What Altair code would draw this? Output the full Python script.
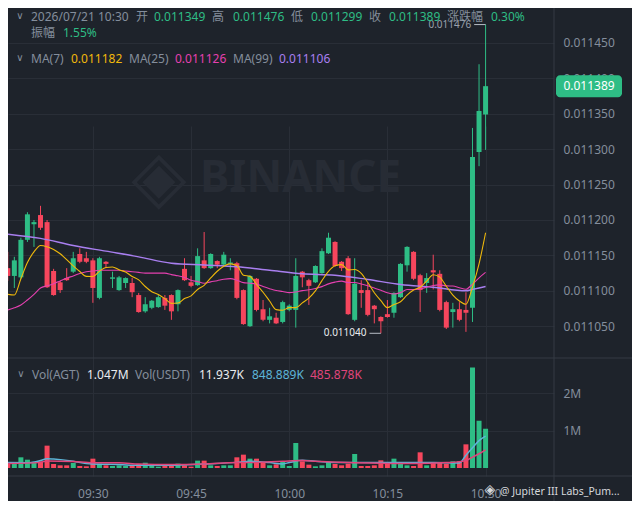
import altair as alt
import pandas as pd

# ---------------- values ----------------
first_minute = 17  # first candle 09:17, 1-minute candles up to 10:30
opens = [0.011132, 0.011121, 0.011119, 0.011172, 0.011194, 0.011207, 0.011197, 0.011128, 0.011112, 0.011118,
         0.011127, 0.011152, 0.011146, 0.011143, 0.011090, 0.011141, 0.011117, 0.011101, 0.011111, 0.011111,
         0.011094, 0.011071, 0.011076, 0.011077, 0.011090, 0.011094, 0.011081, 0.011131, 0.011112, 0.011108,
         0.011143, 0.011132, 0.011142, 0.011137, 0.011138, 0.011139, 0.011101, 0.011050, 0.011117, 0.011074,
         0.011059, 0.011062, 0.011056, 0.011073, 0.011073, 0.011127, 0.011115, 0.011112, 0.011125, 0.011153,
         0.011169, 0.011141, 0.011146, 0.011059, 0.011101, 0.011101, 0.011079, 0.011063, 0.011067, 0.011069,
         0.011091, 0.011136, 0.011155, 0.011122, 0.011111, 0.011129, 0.011124, 0.011084, 0.011070, 0.011074,
         0.011073, 0.011076, 0.011296, 0.011349]
highs = [0.011155, 0.011148, 0.011175, 0.011211, 0.011200, 0.011220, 0.011200, 0.011131, 0.011114, 0.011132,
         0.011155, 0.011160, 0.011155, 0.011146, 0.011148, 0.011142, 0.011127, 0.011121, 0.011119, 0.011118,
         0.011097, 0.011091, 0.011087, 0.011094, 0.011094, 0.011095, 0.011102, 0.011146, 0.011121, 0.011160,
         0.011183, 0.011153, 0.011143, 0.011155, 0.011146, 0.011141, 0.011102, 0.011122, 0.011118, 0.011087,
         0.011076, 0.011069, 0.011086, 0.011081, 0.011146, 0.011128, 0.011117, 0.011136, 0.011160, 0.011182,
         0.011170, 0.011142, 0.011149, 0.011146, 0.011115, 0.011112, 0.011080, 0.011064, 0.011087, 0.011098,
         0.011139, 0.011163, 0.011156, 0.011124, 0.011125, 0.011151, 0.011129, 0.011086, 0.011083, 0.011084,
         0.011098, 0.011330, 0.011420, 0.011476]
lows = [0.011114, 0.011104, 0.011117, 0.011169, 0.011162, 0.011186, 0.011104, 0.011093, 0.011097, 0.011114,
        0.011125, 0.011139, 0.011139, 0.011083, 0.011088, 0.011132, 0.011104, 0.011100, 0.011104, 0.011091,
        0.011069, 0.011069, 0.011074, 0.011076, 0.011073, 0.011059, 0.011071, 0.011114, 0.011105, 0.011107,
        0.011131, 0.011131, 0.011132, 0.011135, 0.011129, 0.011088, 0.011052, 0.011049, 0.011071, 0.011057,
        0.011054, 0.011053, 0.011054, 0.011071, 0.011048, 0.011105, 0.011080, 0.011111, 0.011124, 0.011152,
        0.011134, 0.011128, 0.011066, 0.011057, 0.011076, 0.011064, 0.011054, 0.011040, 0.011062, 0.011062,
        0.011090, 0.011127, 0.011115, 0.011070, 0.011097, 0.011102, 0.011071, 0.011046, 0.011048, 0.011057,
        0.011042, 0.011056, 0.011276, 0.011299]
closes = [0.011121, 0.011143, 0.011172, 0.011208, 0.011197, 0.011189, 0.011105, 0.011094, 0.011101, 0.011115,
          0.011146, 0.011141, 0.011141, 0.011104, 0.011146, 0.011138, 0.011119, 0.011119, 0.011118, 0.011098,
          0.011070, 0.011081, 0.011086, 0.011091, 0.011079, 0.011071, 0.011101, 0.011115, 0.011107, 0.011149,
          0.011132, 0.011152, 0.011137, 0.011151, 0.011140, 0.011090, 0.011053, 0.011121, 0.011073, 0.011059,
          0.011064, 0.011054, 0.011084, 0.011079, 0.011121, 0.011119, 0.011107, 0.011135, 0.011156, 0.011175,
          0.011135, 0.011132, 0.011067, 0.011110, 0.011097, 0.011066, 0.011074, 0.011057, 0.011063, 0.011097,
          0.011138, 0.011162, 0.011117, 0.011101, 0.011118, 0.011126, 0.011073, 0.011048, 0.011074, 0.011059,
          0.011069, 0.011289, 0.011354, 0.011389]
volumes = [160000, 142000, 285000, 222000, 160000, 178000, 596000, 107000, 71000, 71000,
           133000, 53000, 45000, 249000, 116000, 71000, 53000, 71000, 53000, 71000,
           107000, 142000, 71000, 36000, 71000, 71000, 116000, 71000, 36000, 196000,
           196000, 71000, 53000, 71000, 71000, 285000, 356000, 249000, 249000, 142000,
           71000, 98000, 178000, 53000, 667000, 178000, 89000, 45000, 71000, 160000,
           107000, 71000, 116000, 374000, 53000, 53000, 71000, 205000, 142000, 249000,
           116000, 71000, 53000, 418000, 71000, 142000, 160000, 116000, 178000, 178000,
           631000, 2680000, 1260000, 1047000]
ma7 = [0.011095, 0.011094, 0.011117, 0.011140, 0.011155, 0.011164, 0.0111621, 0.0111583, 0.0111523, 0.0111441,
       0.0111353, 0.0111273, 0.0111204, 0.0111203, 0.0111277, 0.0111330, 0.0111336, 0.0111297, 0.0111264, 0.0111203,
       0.0111154, 0.0111061, 0.0110987, 0.0110947, 0.0110890, 0.0110823, 0.0110827, 0.0110891, 0.0110929, 0.0111019,
       0.0111077, 0.0111181, 0.0111276, 0.0111347, 0.0111381, 0.0111357, 0.0111220, 0.0111204, 0.0111091, 0.0110980,
       0.0110856, 0.0110734, 0.0110726, 0.0110763, 0.0110763, 0.0110829, 0.0110897, 0.0110999, 0.0111144, 0.0111274,
       0.0111354, 0.0111370, 0.0111296, 0.0111300, 0.0111246, 0.0111117, 0.0110973, 0.0110861, 0.0110763, 0.0110806,
       0.0110846, 0.0110939, 0.0111011, 0.0111050, 0.0111137, 0.0111227, 0.0111193, 0.0111064, 0.0110939, 0.0110856,
       0.0110810, 0.0111054, 0.0111380, 0.011182]
ma25 = [0.011073, 0.011076, 0.011080, 0.011087, 0.011095, 0.011104, 0.011107, 0.011110, 0.011114, 0.011118,
        0.011121, 0.0111245, 0.011127, 0.011128, 0.011129, 0.011129, 0.011129, 0.011129, 0.011128, 0.011127,
        0.011126, 0.011125, 0.011125, 0.011125, 0.0111249, 0.0111229, 0.0111212, 0.0111189, 0.0111149, 0.0111130,
        0.0111107, 0.0111126, 0.0111143, 0.0111163, 0.0111172, 0.0111150, 0.0111115, 0.0111107, 0.0111094, 0.0111060,
        0.0111030, 0.0111004, 0.0110990, 0.0110974, 0.0110984, 0.0111003, 0.0111014, 0.0111033, 0.0111059, 0.0111098,
        0.0111123, 0.0111136, 0.0111116, 0.0111118, 0.0111097, 0.0111070, 0.0111039, 0.0111007, 0.0110972, 0.0110955,
        0.0110974, 0.0111018, 0.0111016, 0.0111028, 0.0111051, 0.0111076, 0.0111084, 0.0111069, 0.0111067, 0.0111042,
        0.0111022, 0.0111095, 0.0111183, 0.011126]
ma99_idx = [0, 5, 10, 15, 20, 25, 30, 35, 40, 45, 50, 55, 60, 65, 70, 71, 72, 73]
ma99_val = [0.011180, 0.011174, 0.011164, 0.011156, 0.011148, 0.011139, 0.0111365, 0.011134, 0.011129,
            0.011124, 0.011122, 0.011116, 0.011109, 0.011105, 0.011100, 0.011102, 0.011104, 0.011106]
vma_fast_idx = [0, 3, 5, 6, 7, 10, 12, 13, 17, 20, 25, 30, 35, 37, 40, 42, 43, 45, 47, 50, 55, 60, 65, 69, 70, 71, 72, 73]
vma_fast_val = [144000, 140000, 200000, 250000, 240000, 180000, 120000, 107000, 91000, 72000, 72000, 107000,
                150000, 179000, 144000, 110000, 144000, 205000, 180000, 144000, 144000, 144000, 144000,
                133000, 339000, 540000, 730000, 849000]
vma_slow_idx = [0, 5, 6, 10, 13, 17, 20, 25, 30, 35, 37, 42, 45, 47, 52, 57, 62, 67, 69, 70, 71, 72, 73]
vma_slow_val = [117000, 150000, 190000, 175000, 140000, 140000, 105000, 91000, 107000, 144000, 144000, 179000,
                197000, 179000, 144000, 126000, 117000, 144000, 170000, 200000, 290000, 380000, 486000]

tick_minutes = [30, 45, 60, 75, 90]
tick_labels = ["09:30", "09:45", "10:00", "10:15", "10:30"]
price_ticks = [0.01105, 0.0111, 0.01115, 0.0112, 0.01125, 0.0113, 0.01135, 0.0114, 0.01145]
vol_ticks = [1000000, 2000000]

header_time = "2026/07/21 10:30"
ohlc_labels = ["开", "高", "低", "收", "涨跌幅"]
ohlc_values = ["0.011349", "0.011476", "0.011299", "0.011389", "0.30%"]
amp_label, amp_value = "振幅", "1.55%"
ma_labels = ["MA(7)", "MA(25)", "MA(99)"]
ma_values = ["0.011182", "0.011126", "0.011106"]
vol_texts = ["Vol(AGT)", "1.047M", "Vol(USDT)", "11.937K", "848.889K", "485.878K"]
last_price, last_label = 0.011389, "0.011389"
high_mark = (73, 0.011476, "0.011476")
low_mark = (57, 0.011040, "0.011040")
watermark = "BINANCE"
credit = "@ Jupiter III Labs_Pum..."

# ---------------- styling ----------------
FONT = "Noto Sans, Noto Sans CJK SC"
BG = "#1e232b"
GRID = "#292e37"
SEP = "#343a44"
TXT = "#848e9c"
UP = "#2ebd85"
DOWN = "#f6465d"
MA7C, MA25C, MA99C = "#f0b90b", "#e540b0", "#a97ff0"
CYAN, PINK = "#5db5d8", "#e0457b"
WHITE = "#eaecef"

n = len(closes)
df = pd.DataFrame({
    "m": [first_minute + i for i in range(n)],
    "open": opens, "high": highs, "low": lows, "close": closes,
    "vol": volumes, "ma7": ma7, "ma25": ma25,
})
df["dir"] = ["up" if c >= o else "down" for o, c in zip(opens, closes)]
ma99_df = pd.DataFrame({"m": [first_minute + i for i in ma99_idx], "v": ma99_val})
vf_df = pd.DataFrame({"m": [first_minute + i for i in vma_fast_idx], "v": vma_fast_val})
vs_df = pd.DataFrame({"m": [first_minute + i for i in vma_slow_idx], "v": vma_slow_val})

xscale = alt.Scale(domain=[17.795, 99.69], nice=False, zero=False)
pscale = alt.Scale(domain=[0.0110051, 0.0114994], range=[350, 0], nice=False, zero=False)
vscale = alt.Scale(domain=[-213333, 2933333], range=[468, 350], nice=False, zero=False)

lbl_expr = "[" + ",".join("'%s'" % t for t in tick_labels) + "][indexof([" + ",".join(
    str(v) for v in tick_minutes) + "], datum.value)]"
xaxis = alt.Axis(values=tick_minutes, labelExpr=lbl_expr, grid=True, gridColor=GRID, domain=False,
                 ticks=False, tickSize=0, labelPadding=17, labelBaseline="middle", labelColor=TXT,
                 labelFontSize=12, labelFont=FONT, title=None)
paxis = alt.Axis(orient="right", values=price_ticks, format=".6f", grid=True, gridColor=GRID,
                 domain=False, ticks=False, tickSize=0, labelPadding=9, labelAlign="left",
                 labelBaseline="middle", labelColor=TXT, labelFontSize=12, labelFont=FONT, title=None)
vaxis = alt.Axis(orient="right", values=vol_ticks, labelExpr="(datum.value/1000000) + 'M'", grid=True,
                 gridColor=GRID, domain=False, ticks=False, tickSize=0, labelPadding=9, labelAlign="left",
                 labelBaseline="middle", labelColor=TXT, labelFontSize=12, labelFont=FONT, title=None)

X = alt.X("m:Q", scale=xscale, axis=xaxis)
color_enc = alt.Color("dir:N", scale=alt.Scale(domain=["up", "down"], range=[UP, DOWN]), legend=None)


def PY(field):
    return alt.Y(field, type="quantitative", scale=pscale, axis=paxis)


def VY(field):
    return alt.Y(field, type="quantitative", scale=vscale, axis=vaxis)


wicks = alt.Chart(df).mark_rule(strokeWidth=1, clip=True).encode(x=X, y=PY("low"), y2="high:Q", color=color_enc)
bodies = alt.Chart(df).mark_bar(size=5, clip=True).encode(x=X, y=PY("open"), y2="close:Q", color=color_enc)
l7 = alt.Chart(df).mark_line(color=MA7C, strokeWidth=1.1, clip=True, interpolate="monotone").encode(x=X, y=PY("ma7"))
l25 = alt.Chart(df).mark_line(color=MA25C, strokeWidth=1.1, clip=True, interpolate="monotone").encode(x=X, y=PY("ma25"))
l99 = alt.Chart(ma99_df).mark_line(color=MA99C, strokeWidth=1.4, clip=True, interpolate="monotone").encode(x=X, y=PY("v"))

half = 11 * (0.0114994 - 0.0110051) / 350
bdf = pd.DataFrame({"p": [last_price], "top": [last_price + half], "bot": [last_price - half], "t": [last_label]})
badge = alt.Chart(bdf).mark_rect(color="#2ebd85", cornerRadius=4).encode(
    x=alt.value(548), x2=alt.value(614), y=PY("top"), y2="bot:Q")
badge_t = alt.Chart(bdf).mark_text(color="#ffffff", fontSize=12, font=FONT, align="center", baseline="middle").encode(
    x=alt.value(581), y=PY("p"), text="t:N")

mk = pd.DataFrame({"m": [first_minute + high_mark[0], first_minute + low_mark[0]],
                   "p": [high_mark[1], low_mark[1]], "t": [high_mark[2], low_mark[2]], "k": ["high", "low"]})
mk["m0"] = mk["m"] - 1.74
mk_rule = alt.Chart(mk).mark_rule(color="#b7bdc6", strokeWidth=1).encode(
    x=alt.X("m0:Q", scale=xscale, axis=xaxis), x2="m:Q", y=PY("p"))
mk_hi = alt.Chart(mk).transform_filter("datum.k == 'high'").mark_text(
    color="#9aa1ab", fontSize=10, font=FONT, align="right", baseline="middle", dx=-3).encode(
    x=alt.X("m0:Q", scale=xscale, axis=xaxis), y=PY("p"), text="t:N")
mk_lo = alt.Chart(mk).transform_filter("datum.k == 'low'").mark_text(
    color=WHITE, fontSize=10, font=FONT, align="right", baseline="middle", dx=-3).encode(
    x=alt.X("m0:Q", scale=xscale, axis=xaxis), y=PY("p"), text="t:N")

price = alt.layer(wicks, bodies, l99, l25, l7, mk_rule, mk_hi, mk_lo, badge, badge_t)

vbars = alt.Chart(df).mark_bar(size=5, clip=True).encode(x=X, y=VY("vol"), y2=alt.datum(0), color=color_enc)
vf = alt.Chart(vf_df).mark_line(color=CYAN, strokeWidth=1.5, clip=True, interpolate="monotone").encode(x=X, y=VY("v"))
vs = alt.Chart(vs_df).mark_line(color=PINK, strokeWidth=1.5, clip=True, interpolate="monotone").encode(x=X, y=VY("v"))
vol = alt.layer(vbars, vf, vs)

dummy = pd.DataFrame({"a": [0]})


def txt(s, x, y, color, size=12, align="left", weight="normal", font=FONT):
    return alt.Chart(dummy).mark_text(text=s, color=color, fontSize=size, align=align, baseline="middle",
                                      font=font, fontWeight=weight).encode(x=alt.value(x), y=alt.value(y))


def hrule(y, x0, x1, color=SEP):
    return alt.Chart(dummy).mark_rule(color=color, strokeWidth=1).encode(
        x=alt.value(x0), x2=alt.value(x1), y=alt.value(y))


deco = [
    hrule(350, 0, 632), hrule(468, 0, 632),
    alt.Chart(dummy).mark_rule(color=SEP, strokeWidth=1).encode(x=alt.value(546), y=alt.value(0), y2=alt.value(501)),
    txt("◈", 151, 171, "#272c35", size=72, align="center", font="DejaVu Sans"),
    txt(watermark, 192, 171, "#272c35", size=44, weight="bold"),
    txt("∨", 12, 8, TXT, size=10, align="center", font="DejaVu Sans"),
    txt("∨", 12, 50, TXT, size=10, align="center", font="DejaVu Sans"),
    txt("∨", 13, 366, TXT, size=10, align="center", font="DejaVu Sans"),
    txt(header_time, 23, 9, TXT),
    txt(amp_label, 23, 25, TXT), txt(amp_value, 55, 25, UP),
    txt("◈", 482, 482, "#d5d8dc", size=14, align="center", font="DejaVu Sans"),
    txt(credit, 492, 484, "#d5d8dc", size=10.5),
]
for lab, lx, val, vx in zip(ohlc_labels, [128, 204, 283, 361, 439], ohlc_values, [146, 225, 303, 381, 483]):
    deco += [txt(lab, lx, 9, TXT), txt(val, vx, 9, UP)]
for lab, lx, val, vx, c in zip(ma_labels, [23, 121, 225], ma_values, [63, 167, 271], [MA7C, MA25C, MA99C]):
    deco += [txt(lab, lx, 51, TXT), txt(val, vx, 51, c)]
for s, x, c in zip(vol_texts, [24, 79, 127, 191, 244, 302], [TXT, WHITE, TXT, WHITE, CYAN, PINK]):
    deco.append(txt(s, x, 367, c))

chart = alt.layer(price, vol, *deco, data=dummy).resolve_scale(y="independent").resolve_axis(
    y="independent").properties(
    width=546, height=468, background=BG,
    padding={"left": 0, "top": 0, "right": 78, "bottom": 25},
    autosize=alt.AutoSizeParams(type="none"),
).configure_view(stroke=None)

chart.save("out.html", embed_options={"renderer": "svg", "actions": False})
